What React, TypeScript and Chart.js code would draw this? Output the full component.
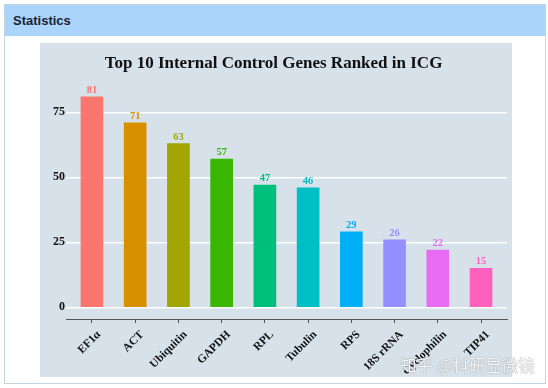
import React, { useEffect, useRef } from "react";
import { Chart, registerables } from "chart.js";

Chart.register(...registerables);

const genes = ["EF1α", "ACT", "Ubiquitin", "GAPDH", "RPL", "Tubulin", "RPS", "18S rRNA", "Cyclophilin", "TIP41"];
const counts = [81, 71, 63, 57, 47, 46, 29, 26, 22, 15];
const barColors = ["#F8766D", "#D89000", "#A3A500", "#39B600", "#00BF7D", "#00BFC4", "#00B0F6", "#9590FF", "#E76BF3", "#FF62BC"];
const yTicks = [0, 25, 50, 75];
const titleText = "Top 10 Internal Control Genes Ranked in ICG";

const SERIF = '"Liberation Serif", "Times New Roman", serif';

const valueLabels = {
  id: "valueLabels",
  afterDatasetsDraw(chart: any) {
    const ctx = chart.ctx;
    const meta = chart.getDatasetMeta(0);
    ctx.save();
    ctx.font = `bold 10.5px ${SERIF}`;
    ctx.textAlign = "center";
    ctx.textBaseline = "alphabetic";
    meta.data.forEach((el: any, i: number) => {
      ctx.fillStyle = barColors[i];
      ctx.fillText(String(counts[i]), el.x, el.y - 4);
    });
    ctx.restore();
  },
};

function ChartCanvas() {
  const ref = useRef<HTMLCanvasElement | null>(null);
  useEffect(() => {
    if (!ref.current) return;
    const chart = new Chart(ref.current, {
      type: "bar",
      data: {
        datasets: [
          {
            data: counts.map((v, i) => ({ x: i, y: v })) as any,
            backgroundColor: barColors,
            borderWidth: 0,
            barThickness: 22,
          },
        ],
      },
      options: {
        animation: false,
        responsive: false,
        layout: { padding: { left: 0, right: 5, top: 0, bottom: 0 } },
        plugins: {
          legend: { display: false },
          tooltip: { enabled: false },
          title: {
            display: true,
            text: titleText,
            color: "#111",
            font: { family: SERIF, size: 17, weight: "bold" },
            padding: { top: 10, bottom: 12.8 },
          },
        },
        scales: {
          x: {
            type: "linear",
            offset: false,
            min: -0.6,
            max: 9.6,
            afterBuildTicks: (scale: any) => {
              scale.ticks = genes.map((_, i) => ({ value: i }));
            },
            afterFit: (scale: any) => {
              scale.height = 58;
            },
            grid: {
              display: true,
              offset: false,
              drawOnChartArea: false,
              drawTicks: true,
              tickLength: 4,
              color: "#555",
            },
            border: { display: true, color: "#555", width: 1 },
            ticks: {
              autoSkip: false,
              minRotation: 45,
              maxRotation: 45,
              padding: 5,
              labelOffset: 7,
              color: "#111",
              font: { family: SERIF, size: 11.5, weight: "bold" },
              callback: (v: any) => genes[v as number] ?? "",
            },
          },
          y: {
            type: "linear",
            min: -4.5,
            max: 85.05,
            afterBuildTicks: (scale: any) => {
              scale.ticks = yTicks.map((v) => ({ value: v }));
            },
            afterFit: (scale: any) => {
              scale.width = 26;
            },
            grid: { color: "#ffffff", lineWidth: 1.5, drawTicks: false },
            border: { display: false },
            ticks: {
              padding: 1,
              color: "#111",
              font: { family: SERIF, size: 12, weight: "bold" },
            },
          },
        },
      },
      plugins: [valueLabels],
    });
    return () => chart.destroy();
  }, []);
  return (
    <canvas
      ref={ref}
      width={472}
      height={334}
      style={{ position: "absolute", left: 40, top: 43, width: 472, height: 334, background: "#d6e1ea" }}
    />
  );
}

export default function App() {
  return (
    <div style={{ position: "absolute", left: 0, top: 0, width: 548, height: 388, background: "#ffffff", overflow: "hidden" }}>
      <div
        style={{
          position: "absolute",
          left: 4,
          top: 4,
          width: 540,
          height: 378,
          border: "1px solid #c3d3df",
          background: "#ffffff",
        }}
      >
        <div
          style={{
            height: 31,
            background: "#aad4fb",
            fontFamily: '"Liberation Sans", Arial, sans-serif',
            fontWeight: "bold",
            fontSize: 13,
            color: "#1b2333",
            lineHeight: "31px",
            paddingLeft: 8,
          }}
        >
          Statistics
        </div>
      </div>
      <ChartCanvas />
      <div
        style={{
          position: "absolute",
          left: 400,
          top: 355,
          fontFamily: '"Noto Sans CJK SC", sans-serif',
          fontSize: 16.5,
          lineHeight: "20px",
          color: "rgba(255,255,255,0.92)",
          textShadow: "0 0 1px rgba(90,90,90,0.9)",
          whiteSpace: "nowrap",
        }}
      >
        知乎 @科研显微镜
      </div>
    </div>
  );
}
